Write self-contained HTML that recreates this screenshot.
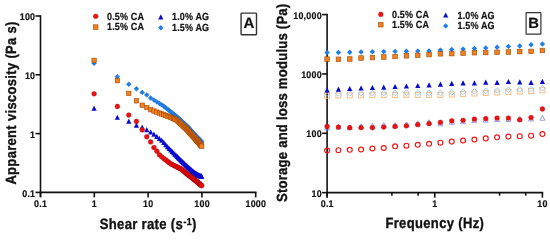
<!DOCTYPE html>
<html><head><meta charset="utf-8"><style>html,body{margin:0;padding:0;width:550px;height:234px;overflow:hidden;background:#fff}</style></head>
<body><svg width="550" height="234" viewBox="0 0 550 234" style="position:absolute;left:0;top:0;will-change:transform" font-family='"Liberation Sans", sans-serif' text-rendering="geometricPrecision">
<rect width="550" height="234" fill="#fff"/>
<line x1="40.5" y1="15.2" x2="40.5" y2="196.89999999999998" stroke="#111" stroke-width="1.6"/>
<line x1="39.7" y1="192.39999999999998" x2="256.5" y2="192.39999999999998" stroke="#111" stroke-width="1.6"/>
<line x1="35.5" y1="16.0" x2="40.5" y2="16.0" stroke="#111" stroke-width="1.6"/>
<g transform="translate(35.30,20.10) scale(1,1.08)"><text x="0" y="0" font-size="8.9" text-anchor="end" font-weight="bold" fill="#111" stroke="#111" stroke-width="0.18" letter-spacing="0.25" >100</text></g>
<line x1="35.5" y1="74.8" x2="40.5" y2="74.8" stroke="#111" stroke-width="1.6"/>
<g transform="translate(35.30,78.90) scale(1,1.08)"><text x="0" y="0" font-size="8.9" text-anchor="end" font-weight="bold" fill="#111" stroke="#111" stroke-width="0.18" letter-spacing="0.25" >10</text></g>
<line x1="35.5" y1="133.6" x2="40.5" y2="133.6" stroke="#111" stroke-width="1.6"/>
<g transform="translate(35.30,137.70) scale(1,1.08)"><text x="0" y="0" font-size="8.9" text-anchor="end" font-weight="bold" fill="#111" stroke="#111" stroke-width="0.18" letter-spacing="0.25" >1</text></g>
<line x1="35.5" y1="192.39999999999998" x2="40.5" y2="192.39999999999998" stroke="#111" stroke-width="1.6"/>
<g transform="translate(35.30,196.50) scale(1,1.08)"><text x="0" y="0" font-size="8.9" text-anchor="end" font-weight="bold" fill="#111" stroke="#111" stroke-width="0.18" letter-spacing="0.25" >0.1</text></g>
<line x1="40.5" y1="192.39999999999998" x2="40.5" y2="197.39999999999998" stroke="#111" stroke-width="1.6"/>
<g transform="translate(40.65,207.40) scale(1,1.08)"><text x="0" y="0" font-size="8.9" text-anchor="middle" font-weight="bold" fill="#111" stroke="#111" stroke-width="0.18" letter-spacing="0.25" >0.1</text></g>
<line x1="94.3" y1="192.39999999999998" x2="94.3" y2="197.39999999999998" stroke="#111" stroke-width="1.6"/>
<g transform="translate(94.45,207.40) scale(1,1.08)"><text x="0" y="0" font-size="8.9" text-anchor="middle" font-weight="bold" fill="#111" stroke="#111" stroke-width="0.18" letter-spacing="0.25" >1</text></g>
<line x1="148.1" y1="192.39999999999998" x2="148.1" y2="197.39999999999998" stroke="#111" stroke-width="1.6"/>
<g transform="translate(148.25,207.40) scale(1,1.08)"><text x="0" y="0" font-size="8.9" text-anchor="middle" font-weight="bold" fill="#111" stroke="#111" stroke-width="0.18" letter-spacing="0.25" >10</text></g>
<line x1="201.89999999999998" y1="192.39999999999998" x2="201.89999999999998" y2="197.39999999999998" stroke="#111" stroke-width="1.6"/>
<g transform="translate(202.05,207.40) scale(1,1.08)"><text x="0" y="0" font-size="8.9" text-anchor="middle" font-weight="bold" fill="#111" stroke="#111" stroke-width="0.18" letter-spacing="0.25" >100</text></g>
<line x1="255.7" y1="192.39999999999998" x2="255.7" y2="197.39999999999998" stroke="#111" stroke-width="1.6"/>
<g transform="translate(255.85,207.40) scale(1,1.08)"><text x="0" y="0" font-size="8.9" text-anchor="middle" font-weight="bold" fill="#111" stroke="#111" stroke-width="0.18" letter-spacing="0.25" >1000</text></g>
<path d="M94.10 60.85L96.55 63.30L94.10 65.75L91.65 63.30Z" fill="#1f7fe6" stroke="#1860c0" stroke-width="0.4"/>
<path d="M117.37 74.26L119.82 76.71L117.37 79.16L114.92 76.71Z" fill="#1f7fe6" stroke="#1860c0" stroke-width="0.4"/>
<path d="M128.79 81.82L131.24 84.27L128.79 86.72L126.34 84.27Z" fill="#1f7fe6" stroke="#1860c0" stroke-width="0.4"/>
<path d="M136.43 86.27L138.88 88.72L136.43 91.17L133.98 88.72Z" fill="#1f7fe6" stroke="#1860c0" stroke-width="0.4"/>
<path d="M142.18 89.95L144.63 92.40L142.18 94.85L139.73 92.40Z" fill="#1f7fe6" stroke="#1860c0" stroke-width="0.4"/>
<path d="M146.79 92.43L149.24 94.88L146.79 97.33L144.34 94.88Z" fill="#1f7fe6" stroke="#1860c0" stroke-width="0.4"/>
<path d="M150.63 95.54L153.08 97.99L150.63 100.44L148.18 97.99Z" fill="#1f7fe6" stroke="#1860c0" stroke-width="0.4"/>
<path d="M153.94 97.59L156.39 100.04L153.94 102.49L151.49 100.04Z" fill="#1f7fe6" stroke="#1860c0" stroke-width="0.4"/>
<path d="M156.83 99.39L159.28 101.84L156.83 104.29L154.38 101.84Z" fill="#1f7fe6" stroke="#1860c0" stroke-width="0.4"/>
<path d="M159.40 100.98L161.85 103.43L159.40 105.88L156.95 103.43Z" fill="#1f7fe6" stroke="#1860c0" stroke-width="0.4"/>
<path d="M161.72 102.42L164.17 104.87L161.72 107.32L159.27 104.87Z" fill="#1f7fe6" stroke="#1860c0" stroke-width="0.4"/>
<path d="M163.83 103.76L166.28 106.21L163.83 108.66L161.38 106.21Z" fill="#1f7fe6" stroke="#1860c0" stroke-width="0.4"/>
<path d="M165.77 105.32L168.22 107.77L165.77 110.22L163.32 107.77Z" fill="#1f7fe6" stroke="#1860c0" stroke-width="0.4"/>
<path d="M167.55 106.77L170.00 109.22L167.55 111.67L165.10 109.22Z" fill="#1f7fe6" stroke="#1860c0" stroke-width="0.4"/>
<path d="M169.21 108.12L171.66 110.57L169.21 113.02L166.76 110.57Z" fill="#1f7fe6" stroke="#1860c0" stroke-width="0.4"/>
<path d="M170.76 109.37L173.21 111.82L170.76 114.27L168.31 111.82Z" fill="#1f7fe6" stroke="#1860c0" stroke-width="0.4"/>
<path d="M172.21 110.55L174.66 113.00L172.21 115.45L169.76 113.00Z" fill="#1f7fe6" stroke="#1860c0" stroke-width="0.4"/>
<path d="M173.58 111.66L176.03 114.11L173.58 116.56L171.13 114.11Z" fill="#1f7fe6" stroke="#1860c0" stroke-width="0.4"/>
<path d="M174.87 112.70L177.32 115.15L174.87 117.60L172.42 115.15Z" fill="#1f7fe6" stroke="#1860c0" stroke-width="0.4"/>
<path d="M176.10 113.70L178.55 116.15L176.10 118.60L173.65 116.15Z" fill="#1f7fe6" stroke="#1860c0" stroke-width="0.4"/>
<path d="M177.26 114.64L179.71 117.09L177.26 119.54L174.81 117.09Z" fill="#1f7fe6" stroke="#1860c0" stroke-width="0.4"/>
<path d="M178.37 115.64L180.82 118.09L178.37 120.54L175.92 118.09Z" fill="#1f7fe6" stroke="#1860c0" stroke-width="0.4"/>
<path d="M179.43 116.62L181.88 119.07L179.43 121.52L176.98 119.07Z" fill="#1f7fe6" stroke="#1860c0" stroke-width="0.4"/>
<path d="M180.44 117.55L182.89 120.00L180.44 122.45L177.99 120.00Z" fill="#1f7fe6" stroke="#1860c0" stroke-width="0.4"/>
<path d="M181.41 118.45L183.86 120.90L181.41 123.35L178.96 120.90Z" fill="#1f7fe6" stroke="#1860c0" stroke-width="0.4"/>
<path d="M182.34 119.31L184.79 121.76L182.34 124.21L179.89 121.76Z" fill="#1f7fe6" stroke="#1860c0" stroke-width="0.4"/>
<path d="M183.24 120.13L185.69 122.58L183.24 125.03L180.79 122.58Z" fill="#1f7fe6" stroke="#1860c0" stroke-width="0.4"/>
<path d="M184.10 120.93L186.55 123.38L184.10 125.83L181.65 123.38Z" fill="#1f7fe6" stroke="#1860c0" stroke-width="0.4"/>
<path d="M184.93 121.69L187.38 124.14L184.93 126.59L182.48 124.14Z" fill="#1f7fe6" stroke="#1860c0" stroke-width="0.4"/>
<path d="M185.74 122.43L188.19 124.88L185.74 127.33L183.29 124.88Z" fill="#1f7fe6" stroke="#1860c0" stroke-width="0.4"/>
<path d="M186.51 123.15L188.96 125.60L186.51 128.05L184.06 125.60Z" fill="#1f7fe6" stroke="#1860c0" stroke-width="0.4"/>
<path d="M187.27 123.84L189.72 126.29L187.27 128.74L184.82 126.29Z" fill="#1f7fe6" stroke="#1860c0" stroke-width="0.4"/>
<path d="M187.99 124.60L190.44 127.05L187.99 129.50L185.54 127.05Z" fill="#1f7fe6" stroke="#1860c0" stroke-width="0.4"/>
<path d="M188.70 125.40L191.15 127.85L188.70 130.30L186.25 127.85Z" fill="#1f7fe6" stroke="#1860c0" stroke-width="0.4"/>
<path d="M189.39 126.17L191.84 128.62L189.39 131.07L186.94 128.62Z" fill="#1f7fe6" stroke="#1860c0" stroke-width="0.4"/>
<path d="M190.05 126.93L192.50 129.38L190.05 131.83L187.60 129.38Z" fill="#1f7fe6" stroke="#1860c0" stroke-width="0.4"/>
<path d="M190.70 127.66L193.15 130.11L190.70 132.56L188.25 130.11Z" fill="#1f7fe6" stroke="#1860c0" stroke-width="0.4"/>
<path d="M191.33 128.38L193.78 130.83L191.33 133.28L188.88 130.83Z" fill="#1f7fe6" stroke="#1860c0" stroke-width="0.4"/>
<path d="M191.94 129.07L194.39 131.52L191.94 133.97L189.49 131.52Z" fill="#1f7fe6" stroke="#1860c0" stroke-width="0.4"/>
<path d="M192.54 129.75L194.99 132.20L192.54 134.65L190.09 132.20Z" fill="#1f7fe6" stroke="#1860c0" stroke-width="0.4"/>
<path d="M193.12 130.41L195.57 132.86L193.12 135.31L190.67 132.86Z" fill="#1f7fe6" stroke="#1860c0" stroke-width="0.4"/>
<path d="M193.69 131.05L196.14 133.50L193.69 135.95L191.24 133.50Z" fill="#1f7fe6" stroke="#1860c0" stroke-width="0.4"/>
<path d="M194.25 131.68L196.70 134.13L194.25 136.58L191.80 134.13Z" fill="#1f7fe6" stroke="#1860c0" stroke-width="0.4"/>
<path d="M194.79 132.30L197.24 134.75L194.79 137.20L192.34 134.75Z" fill="#1f7fe6" stroke="#1860c0" stroke-width="0.4"/>
<path d="M195.32 132.90L197.77 135.35L195.32 137.80L192.87 135.35Z" fill="#1f7fe6" stroke="#1860c0" stroke-width="0.4"/>
<path d="M195.84 133.49L198.29 135.94L195.84 138.39L193.39 135.94Z" fill="#1f7fe6" stroke="#1860c0" stroke-width="0.4"/>
<path d="M196.34 134.06L198.79 136.51L196.34 138.96L193.89 136.51Z" fill="#1f7fe6" stroke="#1860c0" stroke-width="0.4"/>
<path d="M196.84 134.60L199.29 137.05L196.84 139.50L194.39 137.05Z" fill="#1f7fe6" stroke="#1860c0" stroke-width="0.4"/>
<path d="M197.33 135.09L199.78 137.54L197.33 139.99L194.88 137.54Z" fill="#1f7fe6" stroke="#1860c0" stroke-width="0.4"/>
<path d="M197.80 135.57L200.25 138.02L197.80 140.47L195.35 138.02Z" fill="#1f7fe6" stroke="#1860c0" stroke-width="0.4"/>
<path d="M198.27 136.05L200.72 138.50L198.27 140.95L195.82 138.50Z" fill="#1f7fe6" stroke="#1860c0" stroke-width="0.4"/>
<path d="M198.73 136.51L201.18 138.96L198.73 141.41L196.28 138.96Z" fill="#1f7fe6" stroke="#1860c0" stroke-width="0.4"/>
<path d="M199.18 136.97L201.63 139.42L199.18 141.87L196.73 139.42Z" fill="#1f7fe6" stroke="#1860c0" stroke-width="0.4"/>
<path d="M199.62 137.42L202.07 139.87L199.62 142.32L197.17 139.87Z" fill="#1f7fe6" stroke="#1860c0" stroke-width="0.4"/>
<path d="M200.05 137.86L202.50 140.31L200.05 142.76L197.60 140.31Z" fill="#1f7fe6" stroke="#1860c0" stroke-width="0.4"/>
<path d="M200.47 138.29L202.92 140.74L200.47 143.19L198.02 140.74Z" fill="#1f7fe6" stroke="#1860c0" stroke-width="0.4"/>
<path d="M200.89 138.72L203.34 141.17L200.89 143.62L198.44 141.17Z" fill="#1f7fe6" stroke="#1860c0" stroke-width="0.4"/>
<path d="M201.30 139.13L203.75 141.58L201.30 144.03L198.85 141.58Z" fill="#1f7fe6" stroke="#1860c0" stroke-width="0.4"/>
<path d="M201.70 139.54L204.15 141.99L201.70 144.44L199.25 141.99Z" fill="#1f7fe6" stroke="#1860c0" stroke-width="0.4"/>
<rect x="91.90" y="58.10" width="4.4" height="4.4" fill="#f28020" stroke="#a84a00" stroke-width="0.6"/>
<rect x="115.17" y="78.51" width="4.4" height="4.4" fill="#f28020" stroke="#a84a00" stroke-width="0.6"/>
<rect x="126.59" y="91.18" width="4.4" height="4.4" fill="#f28020" stroke="#a84a00" stroke-width="0.6"/>
<rect x="134.23" y="98.62" width="4.4" height="4.4" fill="#f28020" stroke="#a84a00" stroke-width="0.6"/>
<rect x="139.98" y="102.99" width="4.4" height="4.4" fill="#f28020" stroke="#a84a00" stroke-width="0.6"/>
<rect x="144.59" y="105.29" width="4.4" height="4.4" fill="#f28020" stroke="#a84a00" stroke-width="0.6"/>
<rect x="148.43" y="107.54" width="4.4" height="4.4" fill="#f28020" stroke="#a84a00" stroke-width="0.6"/>
<rect x="151.74" y="108.81" width="4.4" height="4.4" fill="#f28020" stroke="#a84a00" stroke-width="0.6"/>
<rect x="154.63" y="109.91" width="4.4" height="4.4" fill="#f28020" stroke="#a84a00" stroke-width="0.6"/>
<rect x="157.20" y="110.88" width="4.4" height="4.4" fill="#f28020" stroke="#a84a00" stroke-width="0.6"/>
<rect x="159.52" y="111.76" width="4.4" height="4.4" fill="#f28020" stroke="#a84a00" stroke-width="0.6"/>
<rect x="161.63" y="112.55" width="4.4" height="4.4" fill="#f28020" stroke="#a84a00" stroke-width="0.6"/>
<rect x="163.57" y="113.26" width="4.4" height="4.4" fill="#f28020" stroke="#a84a00" stroke-width="0.6"/>
<rect x="165.35" y="113.92" width="4.4" height="4.4" fill="#f28020" stroke="#a84a00" stroke-width="0.6"/>
<rect x="167.01" y="114.53" width="4.4" height="4.4" fill="#f28020" stroke="#a84a00" stroke-width="0.6"/>
<rect x="168.56" y="115.11" width="4.4" height="4.4" fill="#f28020" stroke="#a84a00" stroke-width="0.6"/>
<rect x="170.01" y="115.75" width="4.4" height="4.4" fill="#f28020" stroke="#a84a00" stroke-width="0.6"/>
<rect x="171.38" y="116.35" width="4.4" height="4.4" fill="#f28020" stroke="#a84a00" stroke-width="0.6"/>
<rect x="172.67" y="116.91" width="4.4" height="4.4" fill="#f28020" stroke="#a84a00" stroke-width="0.6"/>
<rect x="173.90" y="117.49" width="4.4" height="4.4" fill="#f28020" stroke="#a84a00" stroke-width="0.6"/>
<rect x="175.06" y="118.52" width="4.4" height="4.4" fill="#f28020" stroke="#a84a00" stroke-width="0.6"/>
<rect x="176.17" y="119.50" width="4.4" height="4.4" fill="#f28020" stroke="#a84a00" stroke-width="0.6"/>
<rect x="177.23" y="120.44" width="4.4" height="4.4" fill="#f28020" stroke="#a84a00" stroke-width="0.6"/>
<rect x="178.24" y="121.34" width="4.4" height="4.4" fill="#f28020" stroke="#a84a00" stroke-width="0.6"/>
<rect x="179.21" y="122.20" width="4.4" height="4.4" fill="#f28020" stroke="#a84a00" stroke-width="0.6"/>
<rect x="180.14" y="123.03" width="4.4" height="4.4" fill="#f28020" stroke="#a84a00" stroke-width="0.6"/>
<rect x="181.04" y="123.83" width="4.4" height="4.4" fill="#f28020" stroke="#a84a00" stroke-width="0.6"/>
<rect x="181.90" y="124.59" width="4.4" height="4.4" fill="#f28020" stroke="#a84a00" stroke-width="0.6"/>
<rect x="182.73" y="125.33" width="4.4" height="4.4" fill="#f28020" stroke="#a84a00" stroke-width="0.6"/>
<rect x="183.54" y="126.04" width="4.4" height="4.4" fill="#f28020" stroke="#a84a00" stroke-width="0.6"/>
<rect x="184.31" y="126.87" width="4.4" height="4.4" fill="#f28020" stroke="#a84a00" stroke-width="0.6"/>
<rect x="185.07" y="127.69" width="4.4" height="4.4" fill="#f28020" stroke="#a84a00" stroke-width="0.6"/>
<rect x="185.79" y="128.47" width="4.4" height="4.4" fill="#f28020" stroke="#a84a00" stroke-width="0.6"/>
<rect x="186.50" y="129.24" width="4.4" height="4.4" fill="#f28020" stroke="#a84a00" stroke-width="0.6"/>
<rect x="187.19" y="129.98" width="4.4" height="4.4" fill="#f28020" stroke="#a84a00" stroke-width="0.6"/>
<rect x="187.85" y="130.70" width="4.4" height="4.4" fill="#f28020" stroke="#a84a00" stroke-width="0.6"/>
<rect x="188.50" y="131.40" width="4.4" height="4.4" fill="#f28020" stroke="#a84a00" stroke-width="0.6"/>
<rect x="189.13" y="132.09" width="4.4" height="4.4" fill="#f28020" stroke="#a84a00" stroke-width="0.6"/>
<rect x="189.74" y="132.75" width="4.4" height="4.4" fill="#f28020" stroke="#a84a00" stroke-width="0.6"/>
<rect x="190.34" y="133.40" width="4.4" height="4.4" fill="#f28020" stroke="#a84a00" stroke-width="0.6"/>
<rect x="190.92" y="134.03" width="4.4" height="4.4" fill="#f28020" stroke="#a84a00" stroke-width="0.6"/>
<rect x="191.49" y="134.64" width="4.4" height="4.4" fill="#f28020" stroke="#a84a00" stroke-width="0.6"/>
<rect x="192.05" y="135.24" width="4.4" height="4.4" fill="#f28020" stroke="#a84a00" stroke-width="0.6"/>
<rect x="192.59" y="135.83" width="4.4" height="4.4" fill="#f28020" stroke="#a84a00" stroke-width="0.6"/>
<rect x="193.12" y="136.40" width="4.4" height="4.4" fill="#f28020" stroke="#a84a00" stroke-width="0.6"/>
<rect x="193.64" y="137.00" width="4.4" height="4.4" fill="#f28020" stroke="#a84a00" stroke-width="0.6"/>
<rect x="194.14" y="137.61" width="4.4" height="4.4" fill="#f28020" stroke="#a84a00" stroke-width="0.6"/>
<rect x="194.64" y="138.20" width="4.4" height="4.4" fill="#f28020" stroke="#a84a00" stroke-width="0.6"/>
<rect x="195.13" y="138.78" width="4.4" height="4.4" fill="#f28020" stroke="#a84a00" stroke-width="0.6"/>
<rect x="195.60" y="139.35" width="4.4" height="4.4" fill="#f28020" stroke="#a84a00" stroke-width="0.6"/>
<rect x="196.07" y="139.91" width="4.4" height="4.4" fill="#f28020" stroke="#a84a00" stroke-width="0.6"/>
<rect x="196.53" y="140.45" width="4.4" height="4.4" fill="#f28020" stroke="#a84a00" stroke-width="0.6"/>
<rect x="196.98" y="140.99" width="4.4" height="4.4" fill="#f28020" stroke="#a84a00" stroke-width="0.6"/>
<rect x="197.42" y="141.51" width="4.4" height="4.4" fill="#f28020" stroke="#a84a00" stroke-width="0.6"/>
<rect x="197.85" y="142.03" width="4.4" height="4.4" fill="#f28020" stroke="#a84a00" stroke-width="0.6"/>
<rect x="198.27" y="142.53" width="4.4" height="4.4" fill="#f28020" stroke="#a84a00" stroke-width="0.6"/>
<rect x="198.69" y="143.03" width="4.4" height="4.4" fill="#f28020" stroke="#a84a00" stroke-width="0.6"/>
<rect x="199.10" y="143.52" width="4.4" height="4.4" fill="#f28020" stroke="#a84a00" stroke-width="0.6"/>
<rect x="199.50" y="144.00" width="4.4" height="4.4" fill="#f28020" stroke="#a84a00" stroke-width="0.6"/>
<path d="M94.10 105.58L96.70 110.78L91.50 110.78Z" fill="#0a0acc"/>
<path d="M117.37 114.65L119.97 119.85L114.77 119.85Z" fill="#0a0acc"/>
<path d="M128.79 118.53L131.39 123.73L126.19 123.73Z" fill="#0a0acc"/>
<path d="M136.43 122.54L139.03 127.74L133.83 127.74Z" fill="#0a0acc"/>
<path d="M142.18 124.56L144.78 129.76L139.58 129.76Z" fill="#0a0acc"/>
<path d="M146.79 126.97L149.39 132.17L144.19 132.17Z" fill="#0a0acc"/>
<path d="M150.63 129.33L153.23 134.53L148.03 134.53Z" fill="#0a0acc"/>
<path d="M153.94 131.43L156.54 136.63L151.34 136.63Z" fill="#0a0acc"/>
<path d="M156.83 133.71L159.43 138.91L154.23 138.91Z" fill="#0a0acc"/>
<path d="M159.40 135.75L162.00 140.95L156.80 140.95Z" fill="#0a0acc"/>
<path d="M161.72 137.58L164.32 142.78L159.12 142.78Z" fill="#0a0acc"/>
<path d="M163.83 139.82L166.43 145.02L161.23 145.02Z" fill="#0a0acc"/>
<path d="M165.77 141.98L168.37 147.18L163.17 147.18Z" fill="#0a0acc"/>
<path d="M167.55 143.98L170.15 149.18L164.95 149.18Z" fill="#0a0acc"/>
<path d="M169.21 145.71L171.81 150.91L166.61 150.91Z" fill="#0a0acc"/>
<path d="M170.76 147.27L173.36 152.47L168.16 152.47Z" fill="#0a0acc"/>
<path d="M172.21 148.74L174.81 153.94L169.61 153.94Z" fill="#0a0acc"/>
<path d="M173.58 150.13L176.18 155.33L170.98 155.33Z" fill="#0a0acc"/>
<path d="M174.87 151.44L177.47 156.64L172.27 156.64Z" fill="#0a0acc"/>
<path d="M176.10 152.67L178.70 157.87L173.50 157.87Z" fill="#0a0acc"/>
<path d="M177.26 153.83L179.86 159.03L174.66 159.03Z" fill="#0a0acc"/>
<path d="M178.37 154.93L180.97 160.13L175.77 160.13Z" fill="#0a0acc"/>
<path d="M179.43 155.98L182.03 161.18L176.83 161.18Z" fill="#0a0acc"/>
<path d="M180.44 156.98L183.04 162.18L177.84 162.18Z" fill="#0a0acc"/>
<path d="M181.41 157.93L184.01 163.13L178.81 163.13Z" fill="#0a0acc"/>
<path d="M182.34 158.86L184.94 164.06L179.74 164.06Z" fill="#0a0acc"/>
<path d="M183.24 159.74L185.84 164.94L180.64 164.94Z" fill="#0a0acc"/>
<path d="M184.10 160.59L186.70 165.79L181.50 165.79Z" fill="#0a0acc"/>
<path d="M184.93 161.42L187.53 166.62L182.33 166.62Z" fill="#0a0acc"/>
<path d="M185.74 162.16L188.34 167.36L183.14 167.36Z" fill="#0a0acc"/>
<path d="M186.51 162.86L189.11 168.06L183.91 168.06Z" fill="#0a0acc"/>
<path d="M187.27 163.54L189.87 168.74L184.67 168.74Z" fill="#0a0acc"/>
<path d="M187.99 164.20L190.59 169.40L185.39 169.40Z" fill="#0a0acc"/>
<path d="M188.70 164.84L191.30 170.04L186.10 170.04Z" fill="#0a0acc"/>
<path d="M189.39 165.46L191.99 170.66L186.79 170.66Z" fill="#0a0acc"/>
<path d="M190.05 166.07L192.65 171.27L187.45 171.27Z" fill="#0a0acc"/>
<path d="M190.70 166.65L193.30 171.85L188.10 171.85Z" fill="#0a0acc"/>
<path d="M191.33 167.22L193.93 172.42L188.73 172.42Z" fill="#0a0acc"/>
<path d="M191.94 167.78L194.54 172.98L189.34 172.98Z" fill="#0a0acc"/>
<path d="M192.54 168.32L195.14 173.52L189.94 173.52Z" fill="#0a0acc"/>
<path d="M193.12 168.85L195.72 174.05L190.52 174.05Z" fill="#0a0acc"/>
<path d="M193.69 169.34L196.29 174.54L191.09 174.54Z" fill="#0a0acc"/>
<path d="M194.25 169.71L196.85 174.91L191.65 174.91Z" fill="#0a0acc"/>
<path d="M194.79 170.06L197.39 175.26L192.19 175.26Z" fill="#0a0acc"/>
<path d="M195.32 170.41L197.92 175.61L192.72 175.61Z" fill="#0a0acc"/>
<path d="M195.84 170.75L198.44 175.95L193.24 175.95Z" fill="#0a0acc"/>
<path d="M196.34 171.09L198.94 176.29L193.74 176.29Z" fill="#0a0acc"/>
<path d="M196.84 171.42L199.44 176.62L194.24 176.62Z" fill="#0a0acc"/>
<path d="M197.33 171.74L199.93 176.94L194.73 176.94Z" fill="#0a0acc"/>
<path d="M197.80 172.05L200.40 177.25L195.20 177.25Z" fill="#0a0acc"/>
<path d="M198.27 172.28L200.87 177.48L195.67 177.48Z" fill="#0a0acc"/>
<path d="M198.73 172.46L201.33 177.66L196.13 177.66Z" fill="#0a0acc"/>
<path d="M199.18 172.63L201.78 177.83L196.58 177.83Z" fill="#0a0acc"/>
<path d="M199.62 172.80L202.22 178.00L197.02 178.00Z" fill="#0a0acc"/>
<path d="M200.05 172.97L202.65 178.17L197.45 178.17Z" fill="#0a0acc"/>
<path d="M200.47 173.14L203.07 178.34L197.87 178.34Z" fill="#0a0acc"/>
<path d="M200.89 173.30L203.49 178.50L198.29 178.50Z" fill="#0a0acc"/>
<path d="M201.30 173.45L203.90 178.65L198.70 178.65Z" fill="#0a0acc"/>
<path d="M201.70 173.61L204.30 178.81L199.10 178.81Z" fill="#0a0acc"/>
<circle cx="94.10" cy="93.80" r="2.4" fill="#ee1111" stroke="#9a0000" stroke-width="0.4"/>
<circle cx="117.37" cy="106.52" r="2.4" fill="#ee1111" stroke="#9a0000" stroke-width="0.4"/>
<circle cx="128.79" cy="115.04" r="2.4" fill="#ee1111" stroke="#9a0000" stroke-width="0.4"/>
<circle cx="136.43" cy="121.44" r="2.4" fill="#ee1111" stroke="#9a0000" stroke-width="0.4"/>
<circle cx="142.18" cy="129.96" r="2.4" fill="#ee1111" stroke="#9a0000" stroke-width="0.4"/>
<circle cx="146.79" cy="136.81" r="2.4" fill="#ee1111" stroke="#9a0000" stroke-width="0.4"/>
<circle cx="150.63" cy="141.96" r="2.4" fill="#ee1111" stroke="#9a0000" stroke-width="0.4"/>
<circle cx="153.94" cy="147.54" r="2.4" fill="#ee1111" stroke="#9a0000" stroke-width="0.4"/>
<circle cx="156.83" cy="151.13" r="2.4" fill="#ee1111" stroke="#9a0000" stroke-width="0.4"/>
<circle cx="159.40" cy="154.86" r="2.4" fill="#ee1111" stroke="#9a0000" stroke-width="0.4"/>
<circle cx="161.72" cy="156.86" r="2.4" fill="#ee1111" stroke="#9a0000" stroke-width="0.4"/>
<circle cx="163.83" cy="158.54" r="2.4" fill="#ee1111" stroke="#9a0000" stroke-width="0.4"/>
<circle cx="165.77" cy="160.02" r="2.4" fill="#ee1111" stroke="#9a0000" stroke-width="0.4"/>
<circle cx="167.55" cy="161.39" r="2.4" fill="#ee1111" stroke="#9a0000" stroke-width="0.4"/>
<circle cx="169.21" cy="162.66" r="2.4" fill="#ee1111" stroke="#9a0000" stroke-width="0.4"/>
<circle cx="170.76" cy="163.83" r="2.4" fill="#ee1111" stroke="#9a0000" stroke-width="0.4"/>
<circle cx="172.21" cy="164.56" r="2.4" fill="#ee1111" stroke="#9a0000" stroke-width="0.4"/>
<circle cx="173.58" cy="165.25" r="2.4" fill="#ee1111" stroke="#9a0000" stroke-width="0.4"/>
<circle cx="174.87" cy="165.91" r="2.4" fill="#ee1111" stroke="#9a0000" stroke-width="0.4"/>
<circle cx="176.10" cy="166.52" r="2.4" fill="#ee1111" stroke="#9a0000" stroke-width="0.4"/>
<circle cx="177.26" cy="167.11" r="2.4" fill="#ee1111" stroke="#9a0000" stroke-width="0.4"/>
<circle cx="178.37" cy="167.67" r="2.4" fill="#ee1111" stroke="#9a0000" stroke-width="0.4"/>
<circle cx="179.43" cy="168.21" r="2.4" fill="#ee1111" stroke="#9a0000" stroke-width="0.4"/>
<circle cx="180.44" cy="168.72" r="2.4" fill="#ee1111" stroke="#9a0000" stroke-width="0.4"/>
<circle cx="181.41" cy="169.21" r="2.4" fill="#ee1111" stroke="#9a0000" stroke-width="0.4"/>
<circle cx="182.34" cy="170.01" r="2.4" fill="#ee1111" stroke="#9a0000" stroke-width="0.4"/>
<circle cx="183.24" cy="170.78" r="2.4" fill="#ee1111" stroke="#9a0000" stroke-width="0.4"/>
<circle cx="184.10" cy="171.52" r="2.4" fill="#ee1111" stroke="#9a0000" stroke-width="0.4"/>
<circle cx="184.93" cy="172.23" r="2.4" fill="#ee1111" stroke="#9a0000" stroke-width="0.4"/>
<circle cx="185.74" cy="172.92" r="2.4" fill="#ee1111" stroke="#9a0000" stroke-width="0.4"/>
<circle cx="186.51" cy="173.58" r="2.4" fill="#ee1111" stroke="#9a0000" stroke-width="0.4"/>
<circle cx="187.27" cy="174.20" r="2.4" fill="#ee1111" stroke="#9a0000" stroke-width="0.4"/>
<circle cx="187.99" cy="174.76" r="2.4" fill="#ee1111" stroke="#9a0000" stroke-width="0.4"/>
<circle cx="188.70" cy="175.30" r="2.4" fill="#ee1111" stroke="#9a0000" stroke-width="0.4"/>
<circle cx="189.39" cy="175.82" r="2.4" fill="#ee1111" stroke="#9a0000" stroke-width="0.4"/>
<circle cx="190.05" cy="176.33" r="2.4" fill="#ee1111" stroke="#9a0000" stroke-width="0.4"/>
<circle cx="190.70" cy="176.83" r="2.4" fill="#ee1111" stroke="#9a0000" stroke-width="0.4"/>
<circle cx="191.33" cy="177.31" r="2.4" fill="#ee1111" stroke="#9a0000" stroke-width="0.4"/>
<circle cx="191.94" cy="177.78" r="2.4" fill="#ee1111" stroke="#9a0000" stroke-width="0.4"/>
<circle cx="192.54" cy="178.24" r="2.4" fill="#ee1111" stroke="#9a0000" stroke-width="0.4"/>
<circle cx="193.12" cy="178.68" r="2.4" fill="#ee1111" stroke="#9a0000" stroke-width="0.4"/>
<circle cx="193.69" cy="179.12" r="2.4" fill="#ee1111" stroke="#9a0000" stroke-width="0.4"/>
<circle cx="194.25" cy="179.54" r="2.4" fill="#ee1111" stroke="#9a0000" stroke-width="0.4"/>
<circle cx="194.79" cy="179.96" r="2.4" fill="#ee1111" stroke="#9a0000" stroke-width="0.4"/>
<circle cx="195.32" cy="180.36" r="2.4" fill="#ee1111" stroke="#9a0000" stroke-width="0.4"/>
<circle cx="195.84" cy="180.79" r="2.4" fill="#ee1111" stroke="#9a0000" stroke-width="0.4"/>
<circle cx="196.34" cy="181.22" r="2.4" fill="#ee1111" stroke="#9a0000" stroke-width="0.4"/>
<circle cx="196.84" cy="181.64" r="2.4" fill="#ee1111" stroke="#9a0000" stroke-width="0.4"/>
<circle cx="197.33" cy="182.05" r="2.4" fill="#ee1111" stroke="#9a0000" stroke-width="0.4"/>
<circle cx="197.80" cy="182.46" r="2.4" fill="#ee1111" stroke="#9a0000" stroke-width="0.4"/>
<circle cx="198.27" cy="182.85" r="2.4" fill="#ee1111" stroke="#9a0000" stroke-width="0.4"/>
<circle cx="198.73" cy="183.24" r="2.4" fill="#ee1111" stroke="#9a0000" stroke-width="0.4"/>
<circle cx="199.18" cy="183.62" r="2.4" fill="#ee1111" stroke="#9a0000" stroke-width="0.4"/>
<circle cx="199.62" cy="184.00" r="2.4" fill="#ee1111" stroke="#9a0000" stroke-width="0.4"/>
<circle cx="200.05" cy="184.37" r="2.4" fill="#ee1111" stroke="#9a0000" stroke-width="0.4"/>
<circle cx="200.47" cy="184.73" r="2.4" fill="#ee1111" stroke="#9a0000" stroke-width="0.4"/>
<circle cx="200.89" cy="185.08" r="2.4" fill="#ee1111" stroke="#9a0000" stroke-width="0.4"/>
<circle cx="201.30" cy="185.43" r="2.4" fill="#ee1111" stroke="#9a0000" stroke-width="0.4"/>
<circle cx="201.70" cy="185.60" r="2.4" fill="#ee1111" stroke="#9a0000" stroke-width="0.4"/>
<circle cx="95.70" cy="16.30" r="2.4" fill="#ee1111" stroke="#b00000" stroke-width="0.4"/>
<rect x="93.40" y="24.80" width="4.6" height="4.6" fill="#f28020" stroke="#a04a00" stroke-width="0.6"/>
<path d="M160.80 14.18L163.40 19.38L158.20 19.38Z" fill="#0a0acc"/>
<path d="M160.80 25.00L163.50 27.70L160.80 30.40L158.10 27.70Z" fill="#1f7fe6"/>
<g transform="translate(107.00,19.70) scale(1,1.14)"><text x="0" y="0" font-size="9.0" text-anchor="start" font-weight="bold" fill="#111" stroke="#111" stroke-width="0.18" letter-spacing="0.15" >0.5% CA</text></g>
<g transform="translate(107.00,30.30) scale(1,1.14)"><text x="0" y="0" font-size="9.0" text-anchor="start" font-weight="bold" fill="#111" stroke="#111" stroke-width="0.18" letter-spacing="0.15" >1.5% CA</text></g>
<g transform="translate(172.00,20.30) scale(1,1.14)"><text x="0" y="0" font-size="9.0" text-anchor="start" font-weight="bold" fill="#111" stroke="#111" stroke-width="0.18" letter-spacing="0.15" >1.0% AG</text></g>
<g transform="translate(172.00,30.70) scale(1,1.14)"><text x="0" y="0" font-size="9.0" text-anchor="start" font-weight="bold" fill="#111" stroke="#111" stroke-width="0.18" letter-spacing="0.15" >1.5% AG</text></g>
<rect x="241.1" y="13.1" width="15.4" height="21.6" rx="0.6" fill="none" stroke="#333" stroke-width="1.4"/>
<g transform="translate(248.80,27.90) scale(1,1.0)"><text x="0" y="0" font-size="15" text-anchor="middle" font-weight="bold" fill="#111" stroke="#111" stroke-width="0.18" >A</text></g>
<text transform="translate(15.6,102.9) rotate(-90) scale(1,1.14)" letter-spacing="0.35" font-size="12.95" font-weight="bold" text-anchor="middle" fill="#111" stroke="#111" stroke-width="0.3">Apparent viscosity (Pa s)</text>
<text transform="translate(148.2,229) scale(1,1.14)" letter-spacing="0.3" font-size="13.1" font-weight="bold" text-anchor="middle" fill="#111" stroke="#111" stroke-width="0.3">Shear rate (s<tspan dx="0.6" dy="-3.4" font-size="8.8">-1</tspan><tspan dy="3.4">)</tspan></text>
<line x1="327.1" y1="13.799999999999999" x2="327.1" y2="197.15" stroke="#111" stroke-width="1.6"/>
<line x1="326.3" y1="192.65" x2="543.2" y2="192.65" stroke="#111" stroke-width="1.6"/>
<line x1="322.1" y1="14.6" x2="327.1" y2="14.6" stroke="#111" stroke-width="1.6"/>
<g transform="translate(321.90,18.70) scale(1,1.08)"><text x="0" y="0" font-size="8.9" text-anchor="end" font-weight="bold" fill="#111" stroke="#111" stroke-width="0.18" letter-spacing="0.25" >10,000</text></g>
<line x1="322.1" y1="73.95" x2="327.1" y2="73.95" stroke="#111" stroke-width="1.6"/>
<g transform="translate(321.90,78.05) scale(1,1.08)"><text x="0" y="0" font-size="8.9" text-anchor="end" font-weight="bold" fill="#111" stroke="#111" stroke-width="0.18" letter-spacing="0.25" >1000</text></g>
<line x1="322.1" y1="133.3" x2="327.1" y2="133.3" stroke="#111" stroke-width="1.6"/>
<g transform="translate(321.90,137.40) scale(1,1.08)"><text x="0" y="0" font-size="8.9" text-anchor="end" font-weight="bold" fill="#111" stroke="#111" stroke-width="0.18" letter-spacing="0.25" >100</text></g>
<line x1="322.1" y1="192.65" x2="327.1" y2="192.65" stroke="#111" stroke-width="1.6"/>
<g transform="translate(321.90,196.75) scale(1,1.08)"><text x="0" y="0" font-size="8.9" text-anchor="end" font-weight="bold" fill="#111" stroke="#111" stroke-width="0.18" letter-spacing="0.25" >10</text></g>
<line x1="327.1" y1="192.65" x2="327.1" y2="197.65" stroke="#111" stroke-width="1.6"/>
<g transform="translate(327.25,206.95) scale(1,1.08)"><text x="0" y="0" font-size="8.9" text-anchor="middle" font-weight="bold" fill="#111" stroke="#111" stroke-width="0.18" letter-spacing="0.25" >0.1</text></g>
<line x1="434.75" y1="192.65" x2="434.75" y2="197.65" stroke="#111" stroke-width="1.6"/>
<g transform="translate(434.90,206.95) scale(1,1.08)"><text x="0" y="0" font-size="8.9" text-anchor="middle" font-weight="bold" fill="#111" stroke="#111" stroke-width="0.18" letter-spacing="0.25" >1</text></g>
<line x1="542.4000000000001" y1="192.65" x2="542.4000000000001" y2="197.65" stroke="#111" stroke-width="1.6"/>
<g transform="translate(542.55,206.95) scale(1,1.08)"><text x="0" y="0" font-size="8.9" text-anchor="middle" font-weight="bold" fill="#111" stroke="#111" stroke-width="0.18" letter-spacing="0.25" >10</text></g>
<line x1="391.91175806645515" y1="192.65" x2="391.91175806645515" y2="195.65" stroke="#111" stroke-width="1.6"/>
<line x1="418.0748040075348" y1="192.65" x2="418.0748040075348" y2="195.65" stroke="#111" stroke-width="1.6"/>
<line x1="499.5617580664552" y1="192.65" x2="499.5617580664552" y2="195.65" stroke="#111" stroke-width="1.6"/>
<line x1="525.7248040075348" y1="192.65" x2="525.7248040075348" y2="195.65" stroke="#111" stroke-width="1.6"/>
<path d="M327.10 49.80L329.80 52.50L327.10 55.20L324.40 52.50Z" fill="#1f7fe6"/>
<path d="M338.43 49.80L341.13 52.50L338.43 55.20L335.73 52.50Z" fill="#1f7fe6"/>
<path d="M349.76 49.60L352.46 52.30L349.76 55.00L347.06 52.30Z" fill="#1f7fe6"/>
<path d="M361.09 49.30L363.79 52.00L361.09 54.70L358.39 52.00Z" fill="#1f7fe6"/>
<path d="M372.43 49.10L375.13 51.80L372.43 54.50L369.73 51.80Z" fill="#1f7fe6"/>
<path d="M383.76 48.90L386.46 51.60L383.76 54.30L381.06 51.60Z" fill="#1f7fe6"/>
<path d="M395.09 48.70L397.79 51.40L395.09 54.10L392.39 51.40Z" fill="#1f7fe6"/>
<path d="M406.42 48.50L409.12 51.20L406.42 53.90L403.72 51.20Z" fill="#1f7fe6"/>
<path d="M417.75 48.40L420.45 51.10L417.75 53.80L415.05 51.10Z" fill="#1f7fe6"/>
<path d="M429.08 48.30L431.78 51.00L429.08 53.70L426.38 51.00Z" fill="#1f7fe6"/>
<path d="M440.42 47.40L443.12 50.10L440.42 52.80L437.72 50.10Z" fill="#1f7fe6"/>
<path d="M451.75 46.80L454.45 49.50L451.75 52.20L449.05 49.50Z" fill="#1f7fe6"/>
<path d="M463.08 46.40L465.78 49.10L463.08 51.80L460.38 49.10Z" fill="#1f7fe6"/>
<path d="M474.41 45.70L477.11 48.40L474.41 51.10L471.71 48.40Z" fill="#1f7fe6"/>
<path d="M485.74 45.20L488.44 47.90L485.74 50.60L483.04 47.90Z" fill="#1f7fe6"/>
<path d="M497.07 44.60L499.77 47.30L497.07 50.00L494.37 47.30Z" fill="#1f7fe6"/>
<path d="M508.41 43.70L511.11 46.40L508.41 49.10L505.71 46.40Z" fill="#1f7fe6"/>
<path d="M519.74 43.30L522.44 46.00L519.74 48.70L517.04 46.00Z" fill="#1f7fe6"/>
<path d="M531.07 42.00L533.77 44.70L531.07 47.40L528.37 44.70Z" fill="#1f7fe6"/>
<path d="M542.40 41.30L545.10 44.00L542.40 46.70L539.70 44.00Z" fill="#1f7fe6"/>
<rect x="324.80" y="56.80" width="4.6" height="4.6" fill="#f28020" stroke="#a04a00" stroke-width="0.6"/>
<rect x="336.13" y="57.00" width="4.6" height="4.6" fill="#f28020" stroke="#a04a00" stroke-width="0.6"/>
<rect x="347.46" y="56.70" width="4.6" height="4.6" fill="#f28020" stroke="#a04a00" stroke-width="0.6"/>
<rect x="358.79" y="55.70" width="4.6" height="4.6" fill="#f28020" stroke="#a04a00" stroke-width="0.6"/>
<rect x="370.13" y="55.30" width="4.6" height="4.6" fill="#f28020" stroke="#a04a00" stroke-width="0.6"/>
<rect x="381.46" y="54.70" width="4.6" height="4.6" fill="#f28020" stroke="#a04a00" stroke-width="0.6"/>
<rect x="392.79" y="54.20" width="4.6" height="4.6" fill="#f28020" stroke="#a04a00" stroke-width="0.6"/>
<rect x="404.12" y="53.50" width="4.6" height="4.6" fill="#f28020" stroke="#a04a00" stroke-width="0.6"/>
<rect x="415.45" y="53.00" width="4.6" height="4.6" fill="#f28020" stroke="#a04a00" stroke-width="0.6"/>
<rect x="426.78" y="52.30" width="4.6" height="4.6" fill="#f28020" stroke="#a04a00" stroke-width="0.6"/>
<rect x="438.12" y="51.50" width="4.6" height="4.6" fill="#f28020" stroke="#a04a00" stroke-width="0.6"/>
<rect x="449.45" y="51.30" width="4.6" height="4.6" fill="#f28020" stroke="#a04a00" stroke-width="0.6"/>
<rect x="460.78" y="50.90" width="4.6" height="4.6" fill="#f28020" stroke="#a04a00" stroke-width="0.6"/>
<rect x="472.11" y="50.40" width="4.6" height="4.6" fill="#f28020" stroke="#a04a00" stroke-width="0.6"/>
<rect x="483.44" y="50.20" width="4.6" height="4.6" fill="#f28020" stroke="#a04a00" stroke-width="0.6"/>
<rect x="494.77" y="50.00" width="4.6" height="4.6" fill="#f28020" stroke="#a04a00" stroke-width="0.6"/>
<rect x="506.11" y="49.70" width="4.6" height="4.6" fill="#f28020" stroke="#a04a00" stroke-width="0.6"/>
<rect x="517.44" y="49.30" width="4.6" height="4.6" fill="#f28020" stroke="#a04a00" stroke-width="0.6"/>
<rect x="528.77" y="49.10" width="4.6" height="4.6" fill="#f28020" stroke="#a04a00" stroke-width="0.6"/>
<rect x="540.10" y="48.20" width="4.6" height="4.6" fill="#f28020" stroke="#a04a00" stroke-width="0.6"/>
<rect x="324.60" y="93.10" width="5.0" height="5.0" fill="none" stroke="#f7bf8a" stroke-width="1.0"/>
<rect x="335.93" y="93.00" width="5.0" height="5.0" fill="none" stroke="#f7bf8a" stroke-width="1.0"/>
<rect x="347.26" y="92.90" width="5.0" height="5.0" fill="none" stroke="#f7bf8a" stroke-width="1.0"/>
<rect x="358.59" y="92.80" width="5.0" height="5.0" fill="none" stroke="#f7bf8a" stroke-width="1.0"/>
<rect x="369.93" y="92.70" width="5.0" height="5.0" fill="none" stroke="#f7bf8a" stroke-width="1.0"/>
<rect x="381.26" y="92.60" width="5.0" height="5.0" fill="none" stroke="#f7bf8a" stroke-width="1.0"/>
<rect x="392.59" y="92.50" width="5.0" height="5.0" fill="none" stroke="#f7bf8a" stroke-width="1.0"/>
<rect x="403.92" y="92.30" width="5.0" height="5.0" fill="none" stroke="#f7bf8a" stroke-width="1.0"/>
<rect x="415.25" y="92.40" width="5.0" height="5.0" fill="none" stroke="#f7bf8a" stroke-width="1.0"/>
<rect x="426.58" y="92.40" width="5.0" height="5.0" fill="none" stroke="#f7bf8a" stroke-width="1.0"/>
<rect x="437.92" y="92.40" width="5.0" height="5.0" fill="none" stroke="#f7bf8a" stroke-width="1.0"/>
<rect x="449.25" y="92.00" width="5.0" height="5.0" fill="none" stroke="#f7bf8a" stroke-width="1.0"/>
<rect x="460.58" y="91.50" width="5.0" height="5.0" fill="none" stroke="#f7bf8a" stroke-width="1.0"/>
<rect x="471.91" y="91.00" width="5.0" height="5.0" fill="none" stroke="#f7bf8a" stroke-width="1.0"/>
<rect x="483.24" y="90.50" width="5.0" height="5.0" fill="none" stroke="#f7bf8a" stroke-width="1.0"/>
<rect x="494.57" y="90.00" width="5.0" height="5.0" fill="none" stroke="#f7bf8a" stroke-width="1.0"/>
<rect x="505.91" y="89.50" width="5.0" height="5.0" fill="none" stroke="#f7bf8a" stroke-width="1.0"/>
<rect x="517.24" y="89.00" width="5.0" height="5.0" fill="none" stroke="#f7bf8a" stroke-width="1.0"/>
<rect x="528.57" y="88.50" width="5.0" height="5.0" fill="none" stroke="#f7bf8a" stroke-width="1.0"/>
<rect x="539.90" y="87.70" width="5.0" height="5.0" fill="none" stroke="#f7bf8a" stroke-width="1.0"/>
<path d="M327.10 90.70L329.90 93.50L327.10 96.30L324.30 93.50Z" fill="none" stroke="#8ec8f2" stroke-width="0.9"/>
<path d="M338.43 90.60L341.23 93.40L338.43 96.20L335.63 93.40Z" fill="none" stroke="#8ec8f2" stroke-width="0.9"/>
<path d="M349.76 90.50L352.56 93.30L349.76 96.10L346.96 93.30Z" fill="none" stroke="#8ec8f2" stroke-width="0.9"/>
<path d="M361.09 90.40L363.89 93.20L361.09 96.00L358.29 93.20Z" fill="none" stroke="#8ec8f2" stroke-width="0.9"/>
<path d="M372.43 90.30L375.23 93.10L372.43 95.90L369.63 93.10Z" fill="none" stroke="#8ec8f2" stroke-width="0.9"/>
<path d="M383.76 90.20L386.56 93.00L383.76 95.80L380.96 93.00Z" fill="none" stroke="#8ec8f2" stroke-width="0.9"/>
<path d="M395.09 90.10L397.89 92.90L395.09 95.70L392.29 92.90Z" fill="none" stroke="#8ec8f2" stroke-width="0.9"/>
<path d="M406.42 89.90L409.22 92.70L406.42 95.50L403.62 92.70Z" fill="none" stroke="#8ec8f2" stroke-width="0.9"/>
<path d="M417.75 90.00L420.55 92.80L417.75 95.60L414.95 92.80Z" fill="none" stroke="#8ec8f2" stroke-width="0.9"/>
<path d="M429.08 90.00L431.88 92.80L429.08 95.60L426.28 92.80Z" fill="none" stroke="#8ec8f2" stroke-width="0.9"/>
<path d="M440.42 90.00L443.22 92.80L440.42 95.60L437.62 92.80Z" fill="none" stroke="#8ec8f2" stroke-width="0.9"/>
<path d="M451.75 89.60L454.55 92.40L451.75 95.20L448.95 92.40Z" fill="none" stroke="#8ec8f2" stroke-width="0.9"/>
<path d="M463.08 89.10L465.88 91.90L463.08 94.70L460.28 91.90Z" fill="none" stroke="#8ec8f2" stroke-width="0.9"/>
<path d="M474.41 88.60L477.21 91.40L474.41 94.20L471.61 91.40Z" fill="none" stroke="#8ec8f2" stroke-width="0.9"/>
<path d="M485.74 88.10L488.54 90.90L485.74 93.70L482.94 90.90Z" fill="none" stroke="#8ec8f2" stroke-width="0.9"/>
<path d="M497.07 87.60L499.87 90.40L497.07 93.20L494.27 90.40Z" fill="none" stroke="#8ec8f2" stroke-width="0.9"/>
<path d="M508.41 87.10L511.21 89.90L508.41 92.70L505.61 89.90Z" fill="none" stroke="#8ec8f2" stroke-width="0.9"/>
<path d="M519.74 86.60L522.54 89.40L519.74 92.20L516.94 89.40Z" fill="none" stroke="#8ec8f2" stroke-width="0.9"/>
<path d="M531.07 86.10L533.87 88.90L531.07 91.70L528.27 88.90Z" fill="none" stroke="#8ec8f2" stroke-width="0.9"/>
<path d="M542.40 85.30L545.20 88.10L542.40 90.90L539.60 88.10Z" fill="none" stroke="#8ec8f2" stroke-width="0.9"/>
<path d="M327.10 87.18L329.70 92.38L324.50 92.38Z" fill="#0a0acc"/>
<path d="M338.43 86.58L341.03 91.78L335.83 91.78Z" fill="#0a0acc"/>
<path d="M349.76 85.88L352.36 91.08L347.16 91.08Z" fill="#0a0acc"/>
<path d="M361.09 85.38L363.69 90.58L358.49 90.58Z" fill="#0a0acc"/>
<path d="M372.43 84.88L375.03 90.08L369.83 90.08Z" fill="#0a0acc"/>
<path d="M383.76 84.48L386.36 89.68L381.16 89.68Z" fill="#0a0acc"/>
<path d="M395.09 83.88L397.69 89.08L392.49 89.08Z" fill="#0a0acc"/>
<path d="M406.42 83.38L409.02 88.58L403.82 88.58Z" fill="#0a0acc"/>
<path d="M417.75 82.88L420.35 88.08L415.15 88.08Z" fill="#0a0acc"/>
<path d="M429.08 82.28L431.68 87.48L426.48 87.48Z" fill="#0a0acc"/>
<path d="M440.42 81.48L443.02 86.68L437.82 86.68Z" fill="#0a0acc"/>
<path d="M451.75 80.68L454.35 85.88L449.15 85.88Z" fill="#0a0acc"/>
<path d="M463.08 80.18L465.68 85.38L460.48 85.38Z" fill="#0a0acc"/>
<path d="M474.41 80.18L477.01 85.38L471.81 85.38Z" fill="#0a0acc"/>
<path d="M485.74 79.48L488.34 84.68L483.14 84.68Z" fill="#0a0acc"/>
<path d="M497.07 79.68L499.67 84.88L494.47 84.88Z" fill="#0a0acc"/>
<path d="M508.41 78.88L511.01 84.08L505.81 84.08Z" fill="#0a0acc"/>
<path d="M519.74 79.18L522.34 84.38L517.14 84.38Z" fill="#0a0acc"/>
<path d="M531.07 79.68L533.67 84.88L528.47 84.88Z" fill="#0a0acc"/>
<path d="M542.40 78.68L545.00 83.88L539.80 83.88Z" fill="#0a0acc"/>
<path d="M327.10 125.12L329.60 129.92L324.60 129.92Z" fill="none" stroke="#9a9af0" stroke-width="1"/>
<path d="M338.43 124.22L340.93 129.02L335.93 129.02Z" fill="none" stroke="#9a9af0" stroke-width="1"/>
<path d="M349.76 124.82L352.26 129.62L347.26 129.62Z" fill="none" stroke="#9a9af0" stroke-width="1"/>
<path d="M361.09 123.82L363.59 128.62L358.59 128.62Z" fill="none" stroke="#9a9af0" stroke-width="1"/>
<path d="M372.43 123.32L374.93 128.12L369.93 128.12Z" fill="none" stroke="#9a9af0" stroke-width="1"/>
<path d="M383.76 122.72L386.26 127.52L381.26 127.52Z" fill="none" stroke="#9a9af0" stroke-width="1"/>
<path d="M395.09 122.62L397.59 127.42L392.59 127.42Z" fill="none" stroke="#9a9af0" stroke-width="1"/>
<path d="M406.42 121.92L408.92 126.72L403.92 126.72Z" fill="none" stroke="#9a9af0" stroke-width="1"/>
<path d="M417.75 120.82L420.25 125.62L415.25 125.62Z" fill="none" stroke="#9a9af0" stroke-width="1"/>
<path d="M429.08 119.82L431.58 124.62L426.58 124.62Z" fill="none" stroke="#9a9af0" stroke-width="1"/>
<path d="M440.42 121.02L442.92 125.82L437.92 125.82Z" fill="none" stroke="#9a9af0" stroke-width="1"/>
<path d="M451.75 119.52L454.25 124.32L449.25 124.32Z" fill="none" stroke="#9a9af0" stroke-width="1"/>
<path d="M463.08 118.92L465.58 123.72L460.58 123.72Z" fill="none" stroke="#9a9af0" stroke-width="1"/>
<path d="M474.41 117.82L476.91 122.62L471.91 122.62Z" fill="none" stroke="#9a9af0" stroke-width="1"/>
<path d="M485.74 117.32L488.24 122.12L483.24 122.12Z" fill="none" stroke="#9a9af0" stroke-width="1"/>
<path d="M497.07 116.72L499.57 121.52L494.57 121.52Z" fill="none" stroke="#9a9af0" stroke-width="1"/>
<path d="M508.41 116.72L510.91 121.52L505.91 121.52Z" fill="none" stroke="#9a9af0" stroke-width="1"/>
<path d="M519.74 116.42L522.24 121.22L517.24 121.22Z" fill="none" stroke="#9a9af0" stroke-width="1"/>
<path d="M531.07 116.22L533.57 121.02L528.57 121.02Z" fill="none" stroke="#9a9af0" stroke-width="1"/>
<path d="M542.40 115.42L544.90 120.22L539.90 120.22Z" fill="none" stroke="#9a9af0" stroke-width="1"/>
<circle cx="327.10" cy="126.50" r="2.4" fill="#ee1111" stroke="#b00000" stroke-width="0.4"/>
<circle cx="338.43" cy="127.10" r="2.4" fill="#ee1111" stroke="#b00000" stroke-width="0.4"/>
<circle cx="349.76" cy="127.70" r="2.4" fill="#ee1111" stroke="#b00000" stroke-width="0.4"/>
<circle cx="361.09" cy="127.70" r="2.4" fill="#ee1111" stroke="#b00000" stroke-width="0.4"/>
<circle cx="372.43" cy="127.70" r="2.4" fill="#ee1111" stroke="#b00000" stroke-width="0.4"/>
<circle cx="383.76" cy="127.10" r="2.4" fill="#ee1111" stroke="#b00000" stroke-width="0.4"/>
<circle cx="395.09" cy="126.50" r="2.4" fill="#ee1111" stroke="#b00000" stroke-width="0.4"/>
<circle cx="406.42" cy="125.80" r="2.4" fill="#ee1111" stroke="#b00000" stroke-width="0.4"/>
<circle cx="417.75" cy="124.70" r="2.4" fill="#ee1111" stroke="#b00000" stroke-width="0.4"/>
<circle cx="429.08" cy="123.70" r="2.4" fill="#ee1111" stroke="#b00000" stroke-width="0.4"/>
<circle cx="440.42" cy="122.40" r="2.4" fill="#ee1111" stroke="#b00000" stroke-width="0.4"/>
<circle cx="451.75" cy="120.90" r="2.4" fill="#ee1111" stroke="#b00000" stroke-width="0.4"/>
<circle cx="463.08" cy="120.30" r="2.4" fill="#ee1111" stroke="#b00000" stroke-width="0.4"/>
<circle cx="474.41" cy="119.20" r="2.4" fill="#ee1111" stroke="#b00000" stroke-width="0.4"/>
<circle cx="485.74" cy="118.70" r="2.4" fill="#ee1111" stroke="#b00000" stroke-width="0.4"/>
<circle cx="497.07" cy="118.10" r="2.4" fill="#ee1111" stroke="#b00000" stroke-width="0.4"/>
<circle cx="508.41" cy="118.10" r="2.4" fill="#ee1111" stroke="#b00000" stroke-width="0.4"/>
<circle cx="519.74" cy="119.80" r="2.4" fill="#ee1111" stroke="#b00000" stroke-width="0.4"/>
<circle cx="531.07" cy="117.60" r="2.4" fill="#ee1111" stroke="#b00000" stroke-width="0.4"/>
<circle cx="542.40" cy="109.00" r="2.4" fill="#ee1111" stroke="#b00000" stroke-width="0.4"/>
<circle cx="327.10" cy="150.60" r="2.45" fill="none" stroke="#f01818" stroke-width="1.2"/>
<circle cx="338.43" cy="150.20" r="2.45" fill="none" stroke="#f01818" stroke-width="1.2"/>
<circle cx="349.76" cy="149.80" r="2.45" fill="none" stroke="#f01818" stroke-width="1.2"/>
<circle cx="361.09" cy="149.50" r="2.45" fill="none" stroke="#f01818" stroke-width="1.2"/>
<circle cx="372.43" cy="148.50" r="2.45" fill="none" stroke="#f01818" stroke-width="1.2"/>
<circle cx="383.76" cy="148.00" r="2.45" fill="none" stroke="#f01818" stroke-width="1.2"/>
<circle cx="395.09" cy="146.30" r="2.45" fill="none" stroke="#f01818" stroke-width="1.2"/>
<circle cx="406.42" cy="145.70" r="2.45" fill="none" stroke="#f01818" stroke-width="1.2"/>
<circle cx="417.75" cy="144.80" r="2.45" fill="none" stroke="#f01818" stroke-width="1.2"/>
<circle cx="429.08" cy="143.80" r="2.45" fill="none" stroke="#f01818" stroke-width="1.2"/>
<circle cx="440.42" cy="142.70" r="2.45" fill="none" stroke="#f01818" stroke-width="1.2"/>
<circle cx="451.75" cy="141.60" r="2.45" fill="none" stroke="#f01818" stroke-width="1.2"/>
<circle cx="463.08" cy="140.50" r="2.45" fill="none" stroke="#f01818" stroke-width="1.2"/>
<circle cx="474.41" cy="139.50" r="2.45" fill="none" stroke="#f01818" stroke-width="1.2"/>
<circle cx="485.74" cy="138.40" r="2.45" fill="none" stroke="#f01818" stroke-width="1.2"/>
<circle cx="497.07" cy="137.30" r="2.45" fill="none" stroke="#f01818" stroke-width="1.2"/>
<circle cx="508.41" cy="136.60" r="2.45" fill="none" stroke="#f01818" stroke-width="1.2"/>
<circle cx="519.74" cy="136.20" r="2.45" fill="none" stroke="#f01818" stroke-width="1.2"/>
<circle cx="531.07" cy="135.70" r="2.45" fill="none" stroke="#f01818" stroke-width="1.2"/>
<circle cx="542.40" cy="134.00" r="2.45" fill="none" stroke="#f01818" stroke-width="1.2"/>
<circle cx="380.80" cy="14.40" r="2.4" fill="#ee1111" stroke="#b00000" stroke-width="0.4"/>
<rect x="378.50" y="22.40" width="4.6" height="4.6" fill="#f28020" stroke="#a04a00" stroke-width="0.6"/>
<path d="M445.70 12.38L448.30 17.58L443.10 17.58Z" fill="#0a0acc"/>
<path d="M445.70 23.20L448.40 25.90L445.70 28.60L443.00 25.90Z" fill="#1f7fe6"/>
<g transform="translate(392.00,17.70) scale(1,1.14)"><text x="0" y="0" font-size="9.0" text-anchor="start" font-weight="bold" fill="#111" stroke="#111" stroke-width="0.18" letter-spacing="0.15" >0.5% CA</text></g>
<g transform="translate(392.00,28.10) scale(1,1.14)"><text x="0" y="0" font-size="9.0" text-anchor="start" font-weight="bold" fill="#111" stroke="#111" stroke-width="0.18" letter-spacing="0.15" >1.5% CA</text></g>
<g transform="translate(457.50,18.50) scale(1,1.14)"><text x="0" y="0" font-size="9.0" text-anchor="start" font-weight="bold" fill="#111" stroke="#111" stroke-width="0.18" letter-spacing="0.15" >1.0% AG</text></g>
<g transform="translate(457.50,28.70) scale(1,1.14)"><text x="0" y="0" font-size="9.0" text-anchor="start" font-weight="bold" fill="#111" stroke="#111" stroke-width="0.18" letter-spacing="0.15" >1.5% AG</text></g>
<rect x="526.1" y="12.7" width="14.8" height="21.4" rx="0.6" fill="none" stroke="#333" stroke-width="1.2"/>
<g transform="translate(533.50,27.90) scale(1,1.0)"><text x="0" y="0" font-size="14.8" text-anchor="middle" font-weight="bold" fill="#111" stroke="#111" stroke-width="0.18" >B</text></g>
<text transform="translate(287.4,102.8) rotate(-90) scale(1,1.12)" letter-spacing="0.22" font-size="13.1" font-weight="bold" text-anchor="middle" fill="#111" stroke="#111" stroke-width="0.3">Storage and loss modulus (Pa)</text>
<text transform="translate(434.8,227.5) scale(1,1.14)" letter-spacing="0.35" font-size="13.0" font-weight="bold" text-anchor="middle" fill="#111" stroke="#111" stroke-width="0.3">Frequency (Hz)</text>
</svg></body></html>
